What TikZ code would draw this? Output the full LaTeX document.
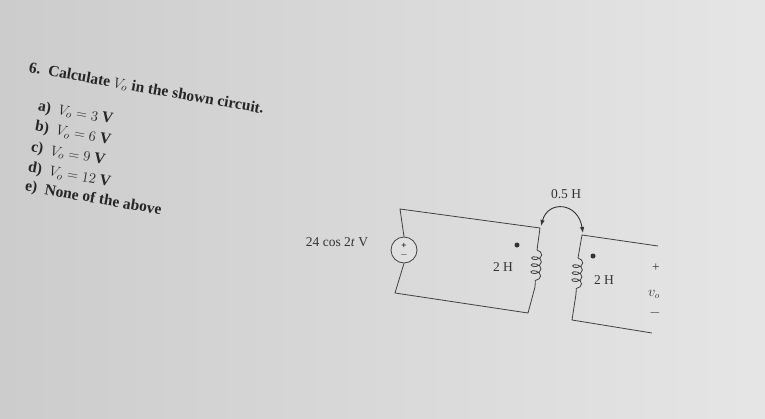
\documentclass[tikz,border=0pt]{standalone}
\usepackage{fontspec}
\setmainfont{Liberation Serif}
\usetikzlibrary{decorations.pathmorphing,arrows.meta}
\begin{document}
\begin{tikzpicture}[x=1pt,y=-1pt,
  wire/.style={draw=black!75,line width=0.8pt},
  txt/.style={text=black!85,font=\fontsize{15.5}{16}\selectfont\bfseries,inner sep=0pt,anchor=west,rotate=-10},
  ctxt/.style={text=black!80,font=\fontsize{13.5}{15}\selectfont,inner sep=0pt},
  coilst/.style={wire,decorate,decoration={coil,aspect=0.6,segment length=7pt,amplitude=5pt}}]
\shade[left color=black!20,right color=black!10] (0,0) rectangle (765,418);
\useasboundingbox (0,0) rectangle (765,418);
% question text
\node[txt] (q) at (29,68) {6.\ \ Calculate $V_o$ in the shown circuit.};
\node[txt] (a) at (38,107) {a)\ \ $V_o = 3$ V};
\node[txt] (b) at (35,127) {b)\ \ $V_o = 6$ V};
\node[txt] (c) at (31,148) {c)\ \ $V_o = 9$ V};
\node[txt] (d) at (28,168) {d)\ \ $V_o = 12$ V};
\node[txt] (e) at (25,187) {e)\ \ None of the above};
% circuit
\coordinate (tl) at (400,209);
\coordinate (tr) at (540,228);
\coordinate (bl) at (395,293);
\coordinate (br) at (528,313);
\coordinate (c1t) at (537,250);
\coordinate (c1b) at (535,287);
\coordinate (c2t) at (578,258);
\coordinate (c2b) at (576,294);
\coordinate (r2t) at (582,235);
\coordinate (r2e) at (658,246);
\coordinate (r2b) at (572,320);
\coordinate (r2be) at (652,333);
\node[circle,draw=black!75,line width=0.8pt,minimum size=26pt,inner sep=0pt,fill=black!12] (src) at (404,250) {};
\node[font=\small\bfseries] at ([yshift=4]src.center) {+};
\node[font=\small\bfseries] at ([yshift=-5]src.center) {$-$};
\path[wire] (src.north) -- (tl) -- (tr) -- (c1t);
\path[coilst] (c1t) -- (c1b);
\path[wire] (c1b) -- (br) -- (bl) -- (src.south);
\path[wire] (r2e) -- (r2t) -- (c2t);
\path[coilst] (c2t) -- (c2b);
\path[wire] (c2b) -- (r2b) -- (r2be);
\fill[black!80] (517,245) circle (2.5);
\fill[black!80] (593,256) circle (2.5);
\draw[black!80,line width=0.9pt,{Latex[length=6pt]}-{Latex[length=6pt]}] (541,226) .. controls (548,200) and (578,202) .. (583,233);
\node[ctxt] (m) at (566,194) {0.5 H};
\node[ctxt] (l1) at (503,267) {2 H};
\node[ctxt] (l2) at (604,280) {2 H};
\node[ctxt] (vs) at (337,242) {24 cos 2\textit{t} V};
\node[ctxt] (p) at (656,268) {+};
\node[ctxt] (vo) at (654,294) {$v_o$};
\node[ctxt] (mn) at (655,313) {$-$};
\end{tikzpicture}
\end{document}
